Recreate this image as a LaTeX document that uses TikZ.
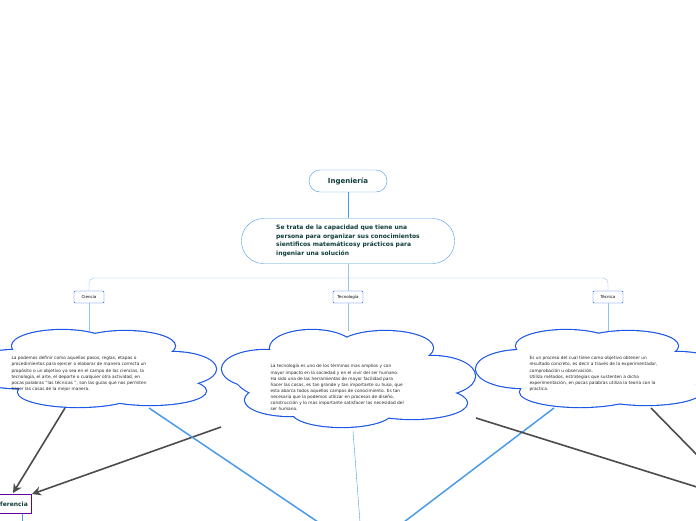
\documentclass[tikz,border=0pt]{standalone}
\usepackage{fontspec}
\setmainfont{DejaVu Sans}
\usetikzlibrary{arrows.meta}
\definecolor{bl}{HTML}{1A56E8}
\definecolor{lb}{HTML}{4A9BE8}
\definecolor{tg}{HTML}{0F3D3A}
\tikzset{
 topic/.style={draw=lb,rounded corners=8pt,fill=white,text=tg,font=\bfseries\fontsize{7}{8}\selectfont},
 sub/.style={draw=bl,fill=white,font=\fontsize{4}{5}\selectfont,minimum width=30pt,minimum height=12pt,inner sep=1pt,rounded corners=1pt},
 txt/.style={font=\fontsize{4.3}{6.1}\selectfont,align=left,text=black!85},
 con/.style={draw=lb!60,thin},
 gar/.style={draw=black!70,line width=1.6pt,-{Stealth[length=9pt,width=9pt]}},
 bline/.style={draw=lb,line width=1.5pt}
}
\newcommand\mycloud[1]{%
 \foreach \cx/\cy/\rx/\ry in {#1} {\draw[bl,line width=2.3pt,fill=white] (\cx,\cy) ellipse[x radius=\rx,y radius=\ry];}
 \foreach \cx/\cy/\rx/\ry in {#1} {\fill[white] (\cx,\cy) ellipse[x radius=\rx,y radius=\ry];}}
\begin{document}
\begin{tikzpicture}[x=1pt,y=-1pt]
\useasboundingbox (0,0) rectangle (696,520);
\clip (0,0) rectangle (696,520);
\node[topic,minimum width=78pt,minimum height=22pt,rounded corners=11pt] (ing) at (348,181) {Ingeniería};
\node[topic,minimum width=213pt,minimum height=45pt,rounded corners=22pt,align=left,font=\bfseries\fontsize{6}{8.5}\selectfont] (def) at (348,241) {Se trata de la capacidad que tiene una\\persona para organizar sus conocimientos\\sientificos matemáticosy prácticos para\\ingeniar una solución};
\draw[con,draw=lb] (ing) -- (def);
\node[sub] (cie) at (89,297) {Ciencia};
\node[sub] (tec) at (348,297) {Tecnología};
\node[sub] (tca) at (608,297) {Técnica};
\coordinate (j) at (348,278);
\draw[con] (def) -- (j);
\draw[con,rounded corners=5pt] (cie) -- (89,278) -- (608,278) -- (tca);
\draw[con] (j) -- (tec);
\coordinate (c1) at (89,331); \coordinate (c2) at (348,331); \coordinate (c3) at (608,331);
\draw[con] (cie) -- (c1);
\draw[con] (tec) -- (c2);
\draw[con] (tca) -- (c3);
\mycloud{62/346/50/16, 125/346/50/15, 172/369/44/17, 150/391/56/14, 78/392/60/15, 14/369/46/19, 100/369/95/24}
\mycloud{312/348/42/18, 385/348/48/17, 432/376/43/20, 412/403/55/16, 342/412/50/15, 290/400/45/16, 265/369/43/19, 348/378/112/30}
\mycloud{566/346/50/16, 628/346/50/15, 678/369/44/17, 646/391/56/14, 580/392/60/15, 522/369/46/19, 598/369/95/24}
\node[txt,anchor=north west] (t1) at (8,353) {La podemos definir como aquellos pasos, reglas, etapas o\\procedimientos para ejercer o elaborar de manera correcta un\\propósito o un objetivo ya sea en el campo de las ciencias, la\\tecnología, el arte, el deporte o cualquier otra actividad, en\\pocas palabras "las técnicas ", son las guías que nos permiten\\hacer las cosas de la mejor manera.};
\node[txt,anchor=north west] (t2) at (267,361) {La  tecnología es uno de los términos  mas amplios y con\\mayor impacto en la sociedad y en el vivir del ser humano.\\ Ha sido una de las herramientas de mayor facilidad para\\hacer las cosas, es tan grande y tan importante su huso, que\\esta abarca todos aquellos campos de conocimiento. Es tan\\necesaria que la podemos utilizar en procesos de diseño,\\construcción y lo mas importante satisfacer las necesidad del\\ser humano.};
\node[txt,anchor=north west] (t3) at (526,353) {Es un proceso del cual tiene como objetivo obtener un\\resultado concreto, es decir a través de la experimentador,\\comprobación u observación.\\Utiliza métodos, estrategias que sustenten a dicha\\experimentación, en pocas palabras utiliza la teoría con la\\practica.};
\node[draw=violet!80!blue,fill=white,font=\bfseries\fontsize{6}{7}\selectfont,text=tg,minimum height=19pt,anchor=east,inner sep=3pt] (inf) at (31,504) {Inferencia};
\coordinate (a1) at (65,408);
\coordinate (a2) at (221,427);
\draw[gar] (a1) -- (13,493);
\draw[gar] (a2) -- (32,494);
\coordinate (b1) at (149,408); \coordinate (b1e) at (318,522);
\coordinate (b2) at (353,431); \coordinate (b2e) at (360,522);
\coordinate (b3) at (554,408); \coordinate (b3e) at (404,522);
\draw[bline] (b1) -- (b1e);
\draw[con,draw=lb] (b2) -- (b2e);
\draw[bline] (b3) -- (b3e);
\coordinate (g1) at (476,418); \coordinate (g1e) at (700,488);
\coordinate (g2) at (651,408); \coordinate (g2e) at (700,458);
\draw[draw=black!70,line width=1.6pt] (g1) -- (g1e);
\draw[draw=black!70,line width=1.6pt] (g2) -- (g2e);
\draw[lb,line width=1pt] (22,514) -- (22,522);
\end{tikzpicture}
\end{document}
